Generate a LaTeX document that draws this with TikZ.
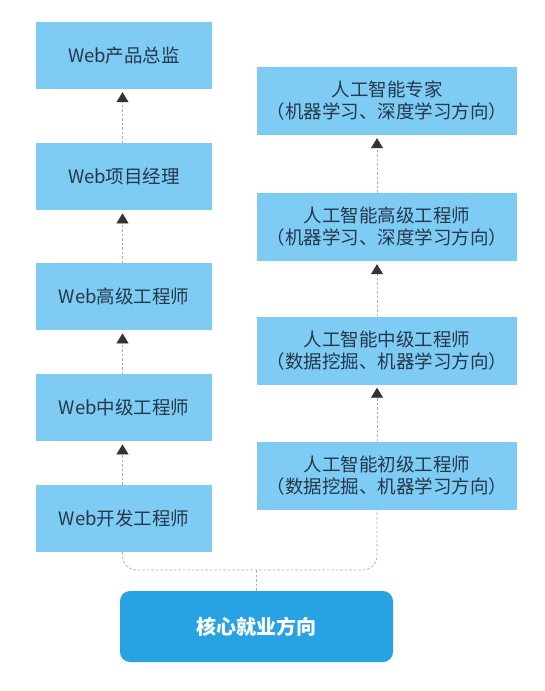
\documentclass[tikz,border=0pt]{standalone}
\usepackage{fontspec}
\setmainfont{Noto Sans CJK SC}
\usetikzlibrary{arrows.meta}
\definecolor{boxblue}{HTML}{7ECBF4}
\definecolor{coreblue}{HTML}{27A3E4}
\definecolor{txt}{HTML}{24384A}
\definecolor{dashgray}{HTML}{B0B0B0}
\definecolor{tipgray}{HTML}{333333}
\tikzset{
  lbox/.style={fill=boxblue, draw=none, minimum width=176pt, minimum height=67pt,
    inner sep=0pt, text=txt, font=\fontsize{18.5pt}{22pt}\selectfont, align=center},
  rbox/.style={lbox, minimum width=260pt, minimum height=68pt},
  corebox/.style={fill=coreblue, draw=none, rounded corners=10pt, minimum width=273pt,
    minimum height=71pt, inner sep=0pt, text=white, font=\fontsize{20pt}{24pt}\selectfont\bfseries},
  dashline/.style={draw=dashgray, line width=0.8pt, dash pattern=on 2.5pt off 2pt},
  uparrow/.style={dashline, -{Triangle[width=12pt,length=10pt,color=tipgray]}},
}
\begin{document}
\begin{tikzpicture}[x=1pt,y=-1pt]
\useasboundingbox[fill=white] (0,0) rectangle (544,691);
% left column
\node[lbox] (w1) at (124,55.5) {Web产品总监};
\node[lbox] (w2) at (124,176.7) {Web项目经理};
\node[lbox] (w3) at (124,296.7) {Web高级工程师};
\node[lbox] (w4) at (124,407.7) {Web中级工程师};
\node[lbox] (w5) at (124,518.5) {Web开发工程师};
% right column
\node[rbox] (a1) at (387,101) {人工智能专家\\（机器学习、深度学习方向）};
\node[rbox] (a2) at (387,227) {人工智能高级工程师\\（机器学习、深度学习方向）};
\node[rbox] (a3) at (387,350.5) {人工智能中级工程师\\（数据挖掘、机器学习方向）};
\node[rbox] (a4) at (387,475.5) {人工智能初级工程师\\（数据挖掘、机器学习方向）};
% core
\node[corebox] (core) at (256.5,626.5) {核心就业方向};
\coordinate (hub) at (256.5,570);
% left arrows
\draw[uparrow] ([xshift=-1.5pt]w2.north) -- ([xshift=-1.5pt,yshift=-3pt]w1.south);
\draw[uparrow] ([xshift=-1.5pt]w3.north) -- ([xshift=-1.5pt,yshift=-3pt]w2.south);
\draw[uparrow] ([xshift=-1.5pt]w4.north) -- ([xshift=-1.5pt,yshift=-3pt]w3.south);
\draw[uparrow] ([xshift=-1.5pt]w5.north) -- ([xshift=-1.5pt,yshift=-3pt]w4.south);
% right arrows
\draw[uparrow] ([xshift=-10pt]a2.north) -- ([xshift=-10pt,yshift=-3pt]a1.south);
\draw[uparrow] ([xshift=-10pt]a3.north) -- ([xshift=-10pt,yshift=-3pt]a2.south);
\draw[uparrow] ([xshift=-10pt]a4.north) -- ([xshift=-10pt,yshift=-3pt]a3.south);
% tree to core
\draw[dashline, rounded corners=14pt] ([xshift=-1.5pt]w5.south) |- (hub) -| ([xshift=-10pt]a4.south);
\draw[dashline] (core.north) -- (hub);
\end{tikzpicture}
\end{document}
